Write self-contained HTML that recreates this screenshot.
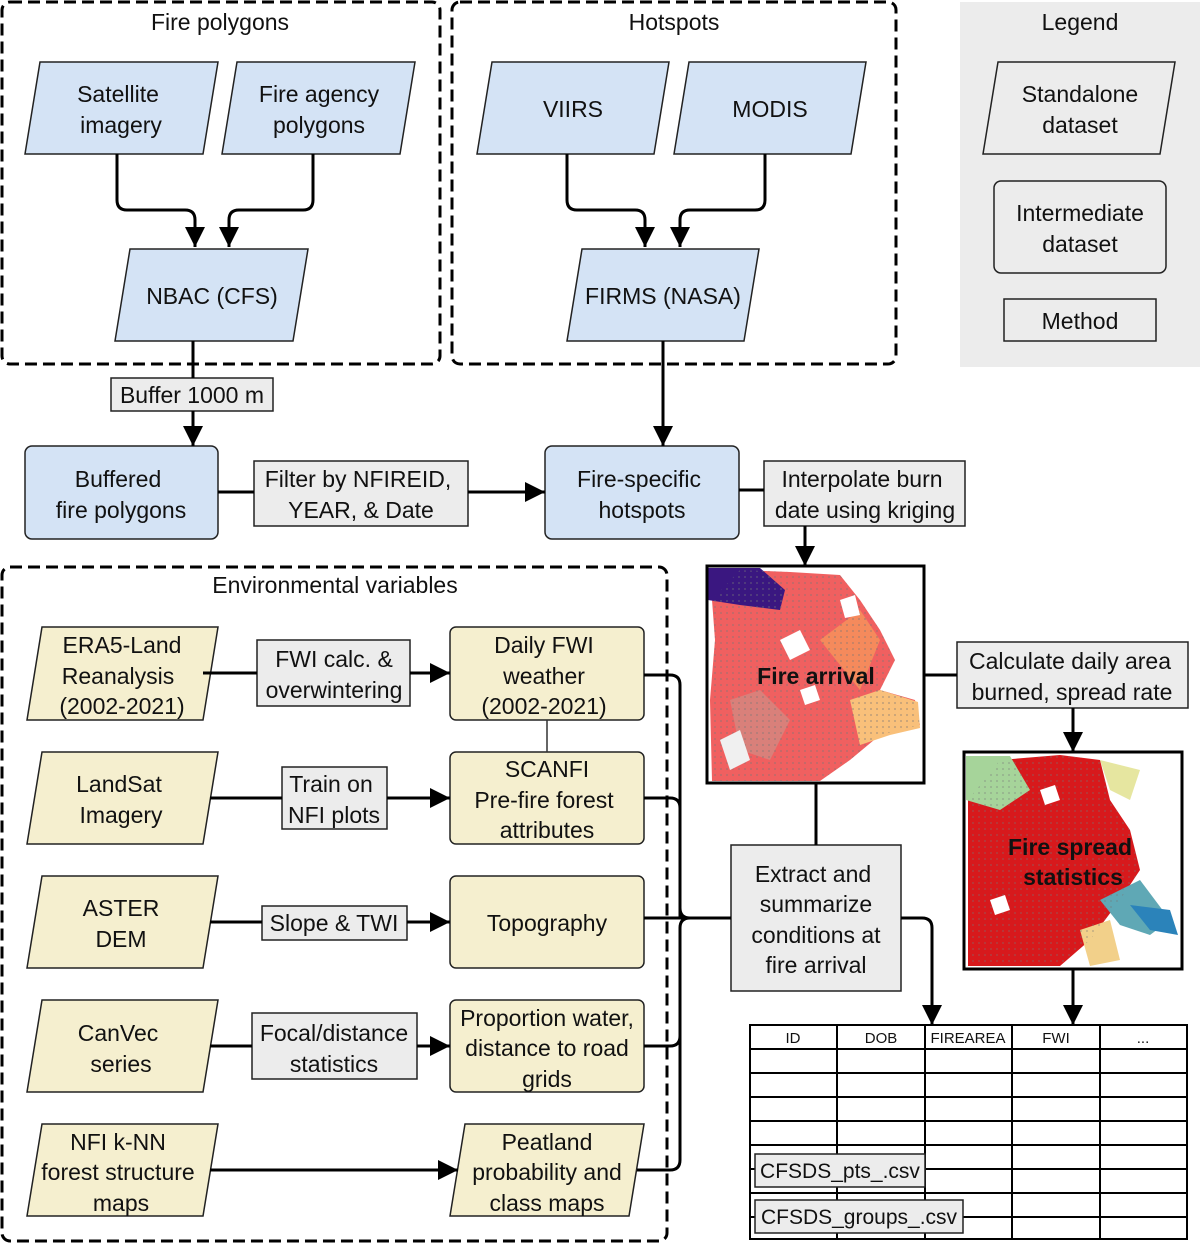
<!DOCTYPE html>
<html><head><meta charset="utf-8"><style>
html,body{margin:0;padding:0;background:#fff;}
svg{display:block;font-family:"Liberation Sans",Arial,sans-serif;}
text{font-size:23px;fill:#111;text-anchor:middle;}
</style></head><body>
<svg width="1200" height="1244" viewBox="0 0 1200 1244" xmlns="http://www.w3.org/2000/svg">
<defs>
<marker id="a" viewBox="0 0 10 10" refX="10" refY="5" markerWidth="20" markerHeight="20" markerUnits="userSpaceOnUse" orient="auto"><path d="M0,0L10,5L0,10Z" fill="#000"/></marker>
<pattern id="dots" width="6" height="6" patternUnits="userSpaceOnUse"><rect x="0" y="0" width="2" height="2" fill="#777"/></pattern>
</defs>
<rect x="2" y="2" width="438" height="362" rx="8" fill="none" stroke="#000" stroke-width="3" stroke-dasharray="12,6"/>
<rect x="452" y="2" width="444" height="362" rx="8" fill="none" stroke="#000" stroke-width="3" stroke-dasharray="12,6"/>
<rect x="2" y="567" width="665" height="674" rx="8" fill="none" stroke="#000" stroke-width="3" stroke-dasharray="12,6"/>
<rect x="960" y="2" width="240" height="365" fill="#ececec"/>
<text x="220" y="30">Fire polygons</text>
<text x="674" y="30">Hotspots</text>
<text x="335" y="593">Environmental variables</text>
<text x="1080" y="30">Legend</text>

<g stroke="#222" stroke-width="1.5">
<path d="M40,62H218L203,154H25Z" fill="#d4e3f5"/>
<path d="M237,62H415L400,154H222Z" fill="#d4e3f5"/>
<path d="M130,249H308L293,341H115Z" fill="#d4e3f5"/>
<path d="M492,62H669L654,154H477Z" fill="#d4e3f5"/>
<path d="M689,62H866L851,154H674Z" fill="#d4e3f5"/>
<path d="M582,249H759L744,341H567Z" fill="#d4e3f5"/>
<rect x="25" y="446" width="193" height="93" rx="7" fill="#d4e3f5"/>
<rect x="545" y="446" width="194" height="93" rx="7" fill="#d4e3f5"/>
<rect x="111" y="378" width="162" height="33" fill="#ececec"/>
<rect x="254" y="461" width="214" height="65" fill="#ececec"/>
<rect x="764" y="461" width="201" height="65" fill="#ececec"/>
<rect x="957" y="642" width="231" height="66" fill="#ececec"/>
<rect x="731" y="845" width="170" height="146" fill="#ececec"/>
<rect x="257" y="640" width="153" height="66" fill="#ececec"/>
<rect x="282" y="767" width="105" height="62" fill="#ececec"/>
<rect x="262" y="906" width="145" height="34" fill="#ececec"/>
<rect x="252" y="1013" width="165" height="66" fill="#ececec"/>
<path d="M42,627H218L203,720H27Z" fill="#f5efcf"/>
<path d="M42,752H218L203,844H27Z" fill="#f5efcf"/>
<path d="M42,876H218L203,968H27Z" fill="#f5efcf"/>
<path d="M42,1000H218L203,1092H27Z" fill="#f5efcf"/>
<path d="M42,1124H218L203,1216H27Z" fill="#f5efcf"/>
<rect x="450" y="627" width="194" height="93" rx="6" fill="#f5efcf"/>
<rect x="450" y="752" width="194" height="92" rx="6" fill="#f5efcf"/>
<rect x="450" y="876" width="194" height="92" rx="6" fill="#f5efcf"/>
<rect x="450" y="1000" width="194" height="92" rx="6" fill="#f5efcf"/>
<path d="M465,1124H644L629,1216H450Z" fill="#f5efcf"/>
<path d="M998,62H1175L1160,154H983Z" fill="none"/>
<rect x="994" y="181" width="172" height="92" rx="7" fill="none"/>
<rect x="1004" y="299" width="152" height="42" fill="none"/>
</g>

<g>
<rect x="707" y="566" width="217" height="217" fill="#fff"/>
<path d="M712,600L740,570L790,572L840,575L860,600L880,630L895,660L880,690L915,700L920,725L880,735L850,760L820,781L760,781L712,781L710,700L715,640Z" fill="#f06060"/>
<path d="M850,700L880,690L918,702L920,728L890,735L860,745Z" fill="#f9c07a"/>
<path d="M820,640L860,610L880,640L860,690Z" fill="#f58a5c"/>
<path d="M708,568L760,568L785,590L780,610L740,605L708,600Z" fill="#3a1780"/>
<path d="M730,700L760,690L790,720L770,760L740,750Z" fill="#d9807a"/>
<path d="M712,600L740,570L790,572L840,575L860,600L880,630L895,660L880,690L915,700L920,725L880,735L850,760L820,781L760,781L712,781L710,700L715,640Z" fill="url(#dots)" opacity="0.35"/>
<path d="M780,640L800,630L810,650L790,660Z" fill="#fff"/>
<path d="M840,600L855,595L860,615L845,618Z" fill="#fff"/>
<path d="M720,740L740,730L750,760L730,770Z" fill="#f0f0f0"/>
<path d="M800,690L815,685L820,700L805,705Z" fill="#fff"/>
<rect x="707" y="566" width="217" height="217" fill="none" stroke="#000" stroke-width="3"/>
<text x="816" y="684" style="font-weight:bold">Fire arrival</text>

<rect x="964" y="752" width="218" height="217" fill="#fff"/>
<path d="M968,800L1000,760L1060,755L1100,760L1110,800L1130,830L1140,870L1120,900L1090,940L1060,966L968,966Z" fill="#d7191c"/>
<path d="M966,756L1010,756L1030,790L1000,810L966,800Z" fill="#a6d49a"/>
<path d="M1100,900L1140,880L1170,920L1150,935L1120,925Z" fill="#5fa8b5"/>
<path d="M1130,905L1170,910L1178,935L1150,930Z" fill="#2b83ba"/>
<path d="M1100,760L1140,770L1130,800L1110,790Z" fill="#e6e6a0"/>
<path d="M1080,930L1110,920L1120,960L1090,966Z" fill="#f2d08a"/>
<path d="M968,800L1000,760L1060,755L1100,760L1110,800L1130,830L1140,870L1120,900L1090,940L1060,966L968,966Z" fill="url(#dots)" opacity="0.3"/>
<path d="M1040,790L1055,785L1060,800L1045,805Z" fill="#fff"/>
<path d="M990,900L1005,895L1010,910L995,915Z" fill="#fff"/>
<rect x="964" y="752" width="218" height="217" fill="none" stroke="#000" stroke-width="3"/>
<text x="1070" y="855" style="font-weight:bold">Fire spread</text>
<text x="1073" y="885" style="font-weight:bold">statistics</text>
</g>

<g stroke="#000" stroke-width="2" fill="none">
<rect x="750" y="1025" width="437" height="214" fill="#fff"/>
<path d="M837,1025V1239M925,1025V1239M1012,1025V1239M1100,1025V1239"/>
<path d="M750,1049H1187M750,1073H1187M750,1097H1187M750,1121H1187M750,1145H1187M750,1169H1187M750,1193H1187M750,1217H1187"/>
</g>
<text x="793" y="1043" style="font-size:15px">ID</text>
<text x="881" y="1043" style="font-size:15px">DOB</text>
<text x="968" y="1043" style="font-size:15px">FIREAREA</text>
<text x="1056" y="1043" style="font-size:15px">FWI</text>
<text x="1143" y="1043" style="font-size:15px">...</text>
<rect x="755" y="1154" width="170" height="33" fill="#ececec" stroke="#222" stroke-width="1.5"/>
<rect x="755" y="1200" width="208" height="33" fill="#ececec" stroke="#222" stroke-width="1.5"/>
<text x="840" y="1178" style="font-size:21px">CFSDS_pts_.csv</text>
<text x="859" y="1224" style="font-size:21px">CFSDS_groups_.csv</text>

<g stroke="#000" stroke-width="3" fill="none">
<path d="M117,154V200Q117,210 127,210H185Q195,210 195,220V247" marker-end="url(#a)"/>
<path d="M313,154V200Q313,210 303,210H239Q229,210 229,220V247" marker-end="url(#a)"/>
<path d="M567,154V200Q567,210 577,210H635Q645,210 645,220V247" marker-end="url(#a)"/>
<path d="M765,154V200Q765,210 755,210H690Q680,210 680,220V247" marker-end="url(#a)"/>
<path d="M193,341V378M193,411V446" marker-end="url(#a)"/>
<path d="M663,341V446" marker-end="url(#a)"/>
<path d="M218,492H254"/>
<path d="M468,492H545" marker-end="url(#a)"/>
<path d="M739,490H764"/>
<path d="M805,526V566" marker-end="url(#a)"/>
<path d="M924,675H957"/>
<path d="M1073,708V752" marker-end="url(#a)"/>
<path d="M1073,969V1025" marker-end="url(#a)"/>
<path d="M816,783V845"/>
<path d="M901,918H922Q932,918 932,928V1025" marker-end="url(#a)"/>
<path d="M203,673H257M410,673H450" marker-end="url(#a)"/>
<path d="M210,798H282M387,798H450" marker-end="url(#a)"/>
<path d="M210,922H262M407,922H450" marker-end="url(#a)"/>
<path d="M210,1046H252M417,1046H450" marker-end="url(#a)"/>
<path d="M210,1170H458" marker-end="url(#a)"/>
<path d="M644,675H670Q680,675 680,685V908Q680,918 690,918H731"/>
<path d="M644,798H670Q680,798 680,808V918"/>
<path d="M644,918H731"/>
<path d="M644,1046H670Q680,1046 680,1036V928Q680,918 690,918"/>
<path d="M637,1170H670Q680,1170 680,1160V928"/>
</g>
<path d="M547,720V752" stroke="#333" stroke-width="1.5"/>

<text x="118" y="102">Satellite</text><text x="121" y="133">imagery</text>
<text x="319" y="102">Fire agency</text><text x="319" y="133">polygons</text>
<text x="212" y="304">NBAC (CFS)</text>
<text x="573" y="117">VIIRS</text>
<text x="770" y="117">MODIS</text>
<text x="663" y="304">FIRMS (NASA)</text>
<text x="192" y="403">Buffer 1000 m</text>
<text x="118" y="487">Buffered</text><text x="121" y="518">fire polygons</text>
<text x="358" y="487">Filter by NFIREID,</text><text x="361" y="518">YEAR, &amp; Date</text>
<text x="639" y="487">Fire-specific</text><text x="642" y="518">hotspots</text>
<text x="862" y="487">Interpolate burn</text><text x="865" y="518">date using kriging</text>
<text x="1070" y="669">Calculate daily area</text><text x="1072" y="700">burned, spread rate</text>
<text x="813" y="882">Extract and</text><text x="816" y="912">summarize</text><text x="816" y="943">conditions at</text><text x="816" y="973">fire arrival</text>
<text x="122" y="653">ERA5-Land</text><text x="118" y="684">Reanalysis</text><text x="122" y="714">(2002-2021)</text>
<text x="334" y="667">FWI calc. &amp;</text><text x="334" y="698">overwintering</text>
<text x="544" y="653">Daily FWI</text><text x="544" y="684">weather</text><text x="544" y="714">(2002-2021)</text>
<text x="119" y="792">LandSat</text><text x="121" y="823">Imagery</text>
<text x="331" y="792">Train on</text><text x="334" y="823">NFI plots</text>
<text x="547" y="777">SCANFI</text><text x="544" y="808">Pre-fire forest</text><text x="547" y="838">attributes</text>
<text x="121" y="916">ASTER</text><text x="121" y="947">DEM</text>
<text x="334" y="931">Slope &amp; TWI</text>
<text x="547" y="931">Topography</text>
<text x="118" y="1041">CanVec</text><text x="121" y="1072">series</text>
<text x="334" y="1041">Focal/distance</text><text x="334" y="1072">statistics</text>
<text x="547" y="1026">Proportion water,</text><text x="547" y="1056">distance to road</text><text x="547" y="1087">grids</text>
<text x="118" y="1150">NFI k-NN</text><text x="118" y="1180">forest structure</text><text x="121" y="1211">maps</text>
<text x="547" y="1150">Peatland</text><text x="547" y="1180">probability and</text><text x="547" y="1211">class maps</text>
<text x="1080" y="102">Standalone</text><text x="1080" y="133">dataset</text>
<text x="1080" y="221">Intermediate</text><text x="1080" y="252">dataset</text>
<text x="1080" y="329">Method</text>
</svg>
</body></html>
